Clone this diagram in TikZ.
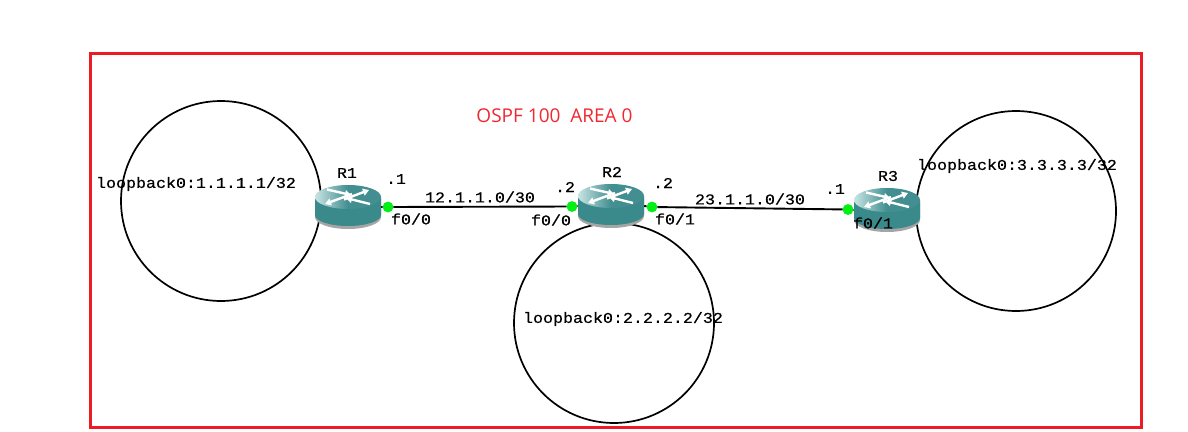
\documentclass[tikz,border=0pt]{standalone}
\usepackage{fontspec}
\usetikzlibrary{arrows.meta}
\setmainfont{Open Sans}
\newfontfamily\labfont[FakeStretch=1.11,FakeBold=0.6]{Liberation Mono}
\definecolor{framered}{RGB}{237,28,36}
\definecolor{ospfred}{RGB}{240,40,48}
\definecolor{rbody}{RGB}{58,138,140}
\definecolor{rtopl}{RGB}{200,228,228}
\definecolor{rtopd}{RGB}{66,142,144}
\definecolor{rshadow}{RGB}{165,165,165}
\definecolor{dotgreen}{RGB}{0,240,20}
\tikzset{
  x=1pt,y=-1pt,
  frame/.style={draw=framered,line width=3pt},
  loop/.style={circle,draw=black,line width=1.7pt,minimum size=200pt,inner sep=0pt},
  lab/.style={font=\labfont\fontsize{15}{15}\selectfont,inner sep=0pt,text=black},
  ospf/.style={font=\fontsize{19}{20}\selectfont,text=ospfred,inner sep=0pt},
  port/.style={circle,fill=dotgreen,draw=none,minimum size=10.5pt,inner sep=0pt},
  link/.style={draw=black,line width=1.9pt},
  routerbox/.style={minimum width=66pt,minimum height=44pt,inner sep=0pt,draw=none},
  rarrow/.style={draw=white,line width=2.4pt,-{Triangle[length=6pt,width=7pt]}},
}
\newcommand{\routerat}[3]{%
  \node[routerbox] (#1) at (#2,#3) {};
  \begin{scope}[shift={(#2,#3)}]
    \fill[rshadow] (-33,-8) -- (-33,10) arc[x radius=33,y radius=12,start angle=180,end angle=0] -- (33,-8) -- cycle;
    \fill[rbody] (-33,-10) -- (-33,8) arc[x radius=33,y radius=11,start angle=180,end angle=0] -- (33,-10) -- cycle;
    \shade[left color=rtopl,right color=rtopd,middle color=rtopd] (0,-10) ellipse[x radius=33,y radius=12];
    \draw[rarrow] (-21,-17.5) -- (3,-12);
    \draw[rarrow] (-4,-7.5) -- (21,-17);
    \draw[rarrow] (4,-13) -- (-23,-3);
    \draw[rarrow] (22,-3) -- (-2,-9);
  \end{scope}
}
\begin{document}
\begin{tikzpicture}
\useasboundingbox (0,0) rectangle (1188,431);
\fill[white] (0,0) rectangle (1188,431);
\node[draw=none,inner sep=0pt] (boxnw) at (90,53) {};
\node[draw=none,inner sep=0pt] (boxse) at (1141,427) {};
\draw[frame] (boxnw) rectangle (boxse);
\node[ospf] (title) at (554.5,116) {OSPF 100\ \ AREA 0};

\node[loop] (l1) at (221,201) {};
\node[loop] (l2) at (614,323) {};
\node[loop] (l3) at (1016,211) {};

\routerat{r1}{348}{207}
\routerat{r2}{611}{206}
\routerat{r3}{887}{210}

\node[port] (p1) at (388,207) {};
\node[port] (p2a) at (572,206.5) {};
\node[port] (p2b) at (652,207) {};
\node[port] (p3) at (848,209.5) {};
\draw[link] (r1.east) -- (p1) -- (p2a) -- (r2.west);
\draw[link] (r2.east) -- (p2b) -- (p3) -- (r3.west);
\node[port] at (p1) {};
\node[port] at (p2a) {};
\node[port] at (p2b) {};
\node[port] at (p3) {};

\node[lab] (t1) at (196,184) {loopback0:1.1.1.1/32};
\node[lab] (t2) at (623,319) {loopback0:2.2.2.2/32};
\node[lab] (t3) at (1017,166) {loopback0:3.3.3.3/32};
\node[lab] (nr1) at (347,173) {R1};
\node[lab] (nr2) at (612,172) {R2};
\node[lab] (nr3) at (888,176) {R3};
\node[lab] (a1) at (396,179) {.1};
\node[lab] (a2) at (565,187) {.2};
\node[lab] (a3) at (663,183) {.2};
\node[lab] (a4) at (835,189) {.1};
\node[lab] (n1) at (480,197) {12.1.1.0/30};
\node[lab] (n2) at (750,199) {23.1.1.0/30};
\node[lab] (f1) at (411,219) {f0/0};
\node[lab] (f2) at (551,220) {f0/0};
\node[lab] (f3) at (675,219) {f0/1};
\node[lab] (f4) at (873,223) {f0/1};
\end{tikzpicture}
\end{document}
